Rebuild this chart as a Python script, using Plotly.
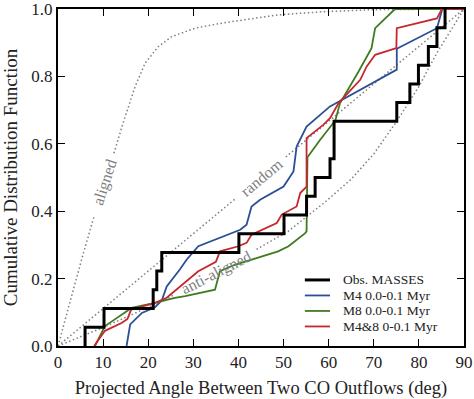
import plotly.graph_objects as go

# ---------------- data ----------------
# observed projected angles (deg), MASSES sample
obs_angles = [6.0, 10.2, 21.1, 21.9, 23.0, 40.1, 50.1, 55.1, 57.0, 60.3,
              61.2, 61.2, 75.1, 78.0, 79.9, 82.1, 84.0, 85.8]

m4_x = [15.2, 16.0, 18.6, 21.5, 23.0, 24.1, 27.0, 28.5, 31.1, 39.6, 40.4, 41.8,
        42.9, 44.8, 50.0, 52.2, 52.9, 55.1, 60.3, 62.2, 75.1, 75.1, 84.0, 85.2, 90.0]
m4_y = [0.0, 0.064, 0.098, 0.115, 0.135, 0.177, 0.227, 0.256, 0.296, 0.340, 0.345, 0.360,
        0.414, 0.434, 0.473, 0.518, 0.592, 0.651, 0.711, 0.725, 0.820, 0.882, 0.943, 1.0, 1.0]

m8_x = [8.2, 10.4, 12.6, 16.3, 21.5, 25.9, 28.2, 34.8, 35.9, 39.2, 48.8, 51.1, 54.8,
        55.1, 55.3, 58.0, 61.5, 62.5, 66.6, 69.5, 70.3, 74.7, 90.0]
m8_y = [0.0, 0.059, 0.079, 0.113, 0.128, 0.143, 0.148, 0.167, 0.222, 0.241, 0.281, 0.296, 0.335,
        0.340, 0.560, 0.610, 0.670, 0.720, 0.814, 0.884, 0.943, 1.0, 1.0]

m48_x = [8.0, 10.4, 14.1, 15.4, 16.2, 21.5, 24.1, 27.0, 31.1, 35.0, 35.9, 40.0, 41.8,
         42.9, 48.5, 49.6, 51.8, 52.9, 53.7, 55.1, 55.1, 58.8, 60.3, 62.2, 67.0, 68.4,
         70.3, 75.0, 75.1, 84.0, 85.1, 90.0]
m48_y = [0.0, 0.045, 0.068, 0.080, 0.108, 0.128, 0.143, 0.175, 0.222, 0.250, 0.281, 0.296, 0.306,
         0.330, 0.365, 0.390, 0.405, 0.414, 0.454, 0.473, 0.617, 0.656, 0.676, 0.721, 0.790, 0.829,
         0.864, 0.884, 0.943, 0.972, 1.0, 1.0]

# reference curves (gaps where the inline labels sit)
aligned_x = [0, 2.5, 5.3, 8.0, None, 12.4, 14.5, 17.1, 19.3, 22.2, 25.2, 30.4, 36.3, 45.9, 49.2, 58.8, 70.0, 90.0]
aligned_y = [0, 0.125, 0.26, 0.385, None, 0.572, 0.665, 0.77, 0.839, 0.888, 0.918, 0.943, 0.958, 0.977, 0.983, 0.992, 0.998, 1.0]

random_x = [0, 39.5, None, 50.5, 90.0]
random_y = [0, 0.439, None, 0.561, 1.0]

anti_x = [0, 10, 20, 25.5, None, 44.0, 51, 59, 65, 70, 75, 80, 84, 87, 90]
anti_y = [0, 0.055, 0.115, 0.15, None, 0.287, 0.34, 0.425, 0.495, 0.57, 0.665, 0.77, 0.87, 0.935, 1.0]

x_ticks = [0, 10, 20, 30, 40, 50, 60, 70, 80, 90]
y_ticks = [0.0, 0.2, 0.4, 0.6, 0.8, 1.0]

series_names = ["Obs. MASSES", "M4 0.0-0.1 Myr", "M8 0.0-0.1 Myr", "M4&8 0-0.1 Myr"]
series_colors = ["black", "#2b4f94", "#3e7b1f", "#c6262e"]
series_widths = [3, 1.8, 1.8, 1.8]

# empirical CDF of observations
n_obs = len(obs_angles)
obs_x = [obs_angles[0]] + obs_angles
obs_y = [0.0] + [(i + 1) / n_obs for i in range(n_obs)]

FONT = "Liberation Serif, Times New Roman, DejaVu Serif, serif"
GRAY = "#7f7f7f"
DOT = "1.5px,2.5px"

fig = go.Figure()
for xs, ys in [(aligned_x, aligned_y), (random_x, random_y), (anti_x, anti_y)]:
    fig.add_trace(go.Scatter(x=xs, y=ys, mode="lines", showlegend=False,
                             line=dict(color=GRAY, width=1.5, dash=DOT),
                             hoverinfo="skip"))

for (xs, ys), name, col, w in zip([(m4_x, m4_y), (m8_x, m8_y), (m48_x, m48_y)],
                                  series_names[1:], series_colors[1:], series_widths[1:]):
    fig.add_trace(go.Scatter(x=xs, y=ys, mode="lines", name=name, showlegend=False,
                             line=dict(color=col, width=w)))
fig.add_trace(go.Scatter(x=obs_x, y=obs_y, mode="lines", name=series_names[0], showlegend=False,
                         line=dict(color=series_colors[0], width=series_widths[0], shape="hv")))

# inline labels
fig.add_annotation(x=10.4, y=0.487, text="aligned", showarrow=False, textangle=-72,
                   font=dict(family=FONT, size=16, color=GRAY))
fig.add_annotation(x=45.1, y=0.50, text="random", showarrow=False, textangle=-40,
                   font=dict(family=FONT, size=16, color=GRAY))
fig.add_annotation(x=35.0, y=0.218, text="anti-aligned", showarrow=False, textangle=-27,
                   font=dict(family=FONT, size=16, color=GRAY))

# legend (drawn in paper coordinates)
leg_rows_y = [0.196, 0.150, 0.104, 0.058]
for name, col, w, yy in zip(series_names, series_colors, series_widths, leg_rows_y):
    fig.add_shape(type="line", xref="paper", yref="paper", x0=0.608, x1=0.670, y0=yy, y1=yy,
                  line=dict(color=col, width=w))
    fig.add_annotation(xref="paper", yref="paper", x=0.700, y=yy, text=name, showarrow=False,
                       xanchor="left", yanchor="middle", borderpad=0,
                       font=dict(family=FONT, size=13.5, color="#222"))

axis_common = dict(showline=True, linecolor="black", linewidth=2, mirror="ticks",
                   ticks="inside", ticklen=7, tickwidth=1.2, tickcolor="black",
                   showgrid=False, zeroline=False, automargin=False,
                   ticklabeloverflow="allow",
                   tickfont=dict(family=FONT, size=17, color="#222"))

fig.update_xaxes(range=[0, 90], tickvals=x_ticks, ticktext=[str(v) for v in x_ticks],
                 title=dict(text="Projected Angle Between Two CO Outflows (deg)",
                            font=dict(family=FONT, size=18.5, color="#222")),
                 **axis_common)
fig.update_yaxes(range=[0, 1.0], tickvals=y_ticks, ticktext=[f"{v:.1f}" for v in y_ticks],
                 title=dict(text="Cumulative Distribution Function",
                            font=dict(family=FONT, size=19, color="#222")),
                 **axis_common)

fig.update_layout(
    width=474, height=399,
    margin=dict(l=58, r=10, t=9, b=53),
    paper_bgcolor="white", plot_bgcolor="white",
    showlegend=False,
)

fig.write_html("out.html", config={"displayModeBar": False},
               post_script="document.body.style.margin='0px';")
